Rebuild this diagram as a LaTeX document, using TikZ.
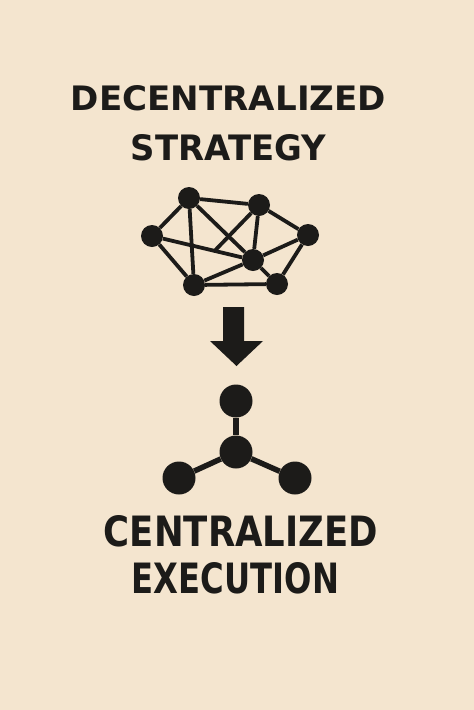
\documentclass[tikz,border=0pt]{standalone}
\usepackage{fontspec}
\usepackage{graphicx}
\setmainfont{DejaVu Sans}
\usetikzlibrary{calc}
\definecolor{paper}{HTML}{F4E5CF}
\definecolor{ink}{HTML}{1C1B19}
\newcommand{\fittext}[3]{\resizebox{#1pt}{#2pt}{\bfseries #3}}
\begin{document}
\begin{tikzpicture}[x=1pt,y=-1pt,
  dot/.style={circle,fill=ink,inner sep=0pt,minimum size=#1},
  wire/.style={draw=ink,line width=#1},
  title/.style={anchor=base,inner sep=0pt,text=ink}]
\fill[paper](0,0)rectangle(474,710);
% titles
\node[title](t1)at(228.5,110){\fittext{315}{25}{DECENTRALIZED}};
\node[title](t2)at(228.5,160){\fittext{195}{26}{STRATEGY}};
\node[title](t3)at(241,546){\fittext{274}{31}{CENTRALIZED}};
\node[title](t4)at(235.5,593){\fittext{207}{31}{EXECUTION}};
% decentralized network
\foreach \nm/\px/\py in {A/189/198,B/259/205,C/152/236,D/308/235,E/253/260,F/194/285,G/277/284}{\node[dot=22pt](\nm)at(\px,\py){};}
\coordinate(X)at($(C)!0.62!(E)$);
\foreach \a/\b in {A/B,A/C,A/F,A/E,C/F,C/E,B/X,B/E,B/D,D/E,D/G,E/F,E/G,F/G}{\draw[wire=3.8pt](\a)--(\b);}
% arrow
\fill[ink](223,307)--(244,307)--(244,341)--(263,341)--(236.5,366)--(210,341)--(223,341)--cycle;
% centralized star
\foreach \nm/\px/\py in {H/236/452,S1/236/401,S2/179/478,S3/295/478}{\node[dot=33pt](\nm)at(\px,\py){};}
\foreach \b in {S1,S2,S3}{\draw[wire=5.5pt](H)--(\b);}
\end{tikzpicture}
\end{document}
